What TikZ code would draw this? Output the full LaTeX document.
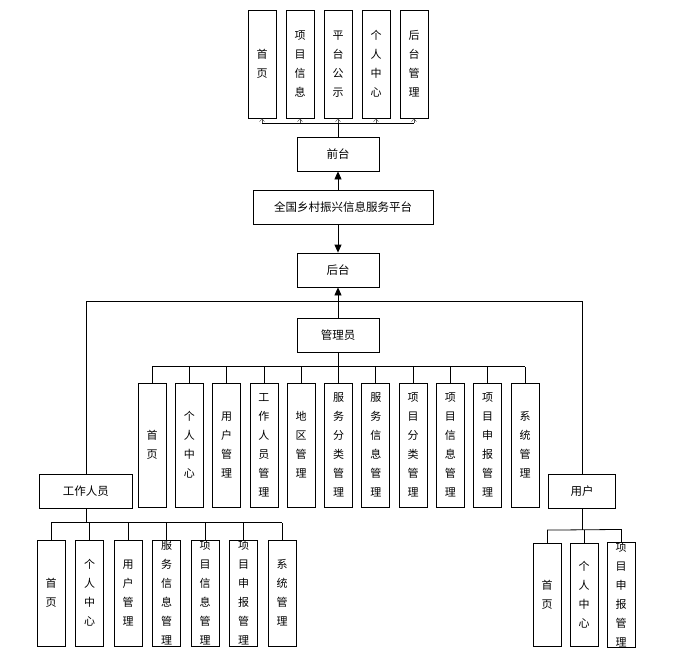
\documentclass[tikz,border=0pt]{standalone}
\usepackage{fontspec}
\setmainfont{Noto Sans CJK SC}
\usetikzlibrary{arrows.meta}
\begin{document}
\begin{tikzpicture}[x=1pt,y=-1pt,
  box/.style={draw,thick,minimum width=82pt,minimum height=34pt,inner sep=0pt,font=\fontsize{11.5}{13}\selectfont},
  vb/.style={draw,thick,minimum width=28pt,inner sep=0pt,align=center,font=\fontsize{11}{19}\selectfont},
  ln/.style={thick},
  ar/.style={thick,-{Triangle[length=8pt,width=7pt]}}]
\useasboundingbox (0,0) rectangle (673,661);
% top
\foreach \n/\x/\t in {t1/262/首\\页,t2/300/项\\目\\信\\息,t3/338/平\\台\\公\\示,t4/376/个\\人\\中\\心,t5/414/后\\台\\管\\理}
  \node[vb,minimum height=108pt] (\n) at (\x,64) {\t};
\node[box] (qt) at (338,154) {前台};
\node[box,minimum width=180pt] (pt) at (343,207) {全国乡村振兴信息服务平台};
\node[box] (ht) at (338,270) {后台};
\coordinate (tb) at (338,123);
\draw[ln] (qt.north) -- (tb);
\draw[thick] (t1.south|-tb) -- (t5.south|-tb);
\foreach \n in {t1,t2,t3,t4,t5} \draw[thin,gray!60!black,-{Straight Barb[length=3pt,width=5pt]}] (\n.south|-tb) -- (\n.south);
\draw[ar] (pt.north -| qt) -- (qt.south);
\draw[ar] (pt.south -| ht) -- (ht.south |- ht.north);
% back
\node[box] (gly) at (338,335) {管理员};
\node[box,minimum width=93pt] (gz) at (86,491) {工作人员};
\node[box,minimum width=67pt] (yh) at (582,491) {用户};
\coordinate (hb) at (338,301);
\draw[ar] (gly.north) -- (ht.south);
\draw[ln] (gz.north) -- (gz.north|-hb) -- (yh.north|-hb) -- (yh.north);
% admin children
\foreach \i/\t in {0/首\\页,1/个\\人\\中\\心,2/用\\户\\管\\理,3/工\\作\\人\\员\\管\\理,4/地\\区\\管\\理,5/服\\务\\分\\类\\管\\理,6/服\\务\\信\\息\\管\\理,7/项\\目\\分\\类\\管\\理,8/项\\目\\信\\息\\管\\理,9/项\\目\\申\\报\\管\\理,10/系\\统\\管\\理}{
  \node[vb,minimum height=124pt] (a\i) at (152+37.3*\i,445) {\t};
  \draw[ln] (a\i.north) -- ++(0,-16);
}
\draw[ln] (a0.north)++(0,-16) -- ([yshift=16pt]a10.north);
\draw[ln] (gly.south) -- (338,367);
% staff children
\foreach \i/\t in {0/首\\页,1/个\\人\\中\\心,2/用\\户\\管\\理,3/服\\务\\信\\息\\管\\理,4/项\\目\\信\\息\\管\\理,5/项\\目\\申\\报\\管\\理,6/系\\统\\管\\理}{
  \node[vb,minimum height=106pt] (s\i) at (51+38.5*\i,593) {\t};
  \draw[ln] (s\i.north) -- ++(0,-17);
}
\draw[ln] (s0.north)++(0,-17) -- ([yshift=17pt]s6.north);
\draw[ln] (gz.south) -- (86,523);
% user children
\foreach \i/\t in {0/首\\页,1/个\\人\\中\\心,2/项\\目\\申\\报\\管\\理}{
  \node[vb,minimum height=103pt] (u\i) at (547+37*\i,595) {\t};
  \draw[ln] (u\i.north) -- ++(0,-13);
}
\draw[ln] (u0.north)++(0,-13) -- ([yshift=13pt]u2.north);
\draw[ln] (yh.south) -- (582,530);
\end{tikzpicture}
\end{document}
